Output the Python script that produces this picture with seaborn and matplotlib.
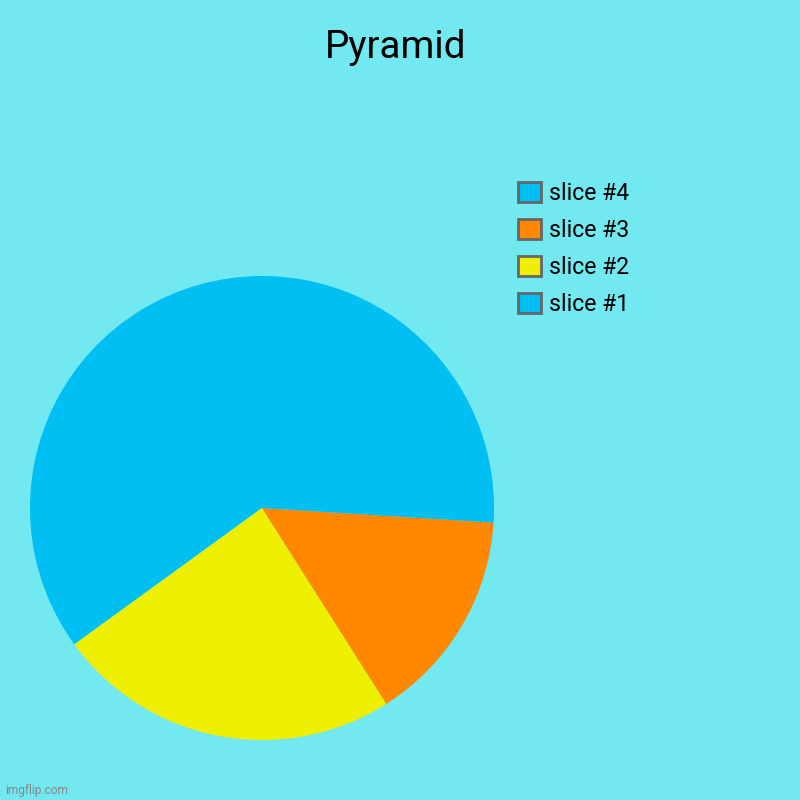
import matplotlib
matplotlib.use("Agg")
import matplotlib.pyplot as plt
from matplotlib.patches import Patch
import seaborn as sns

# pie data (counterclockwise from 12 o'clock)
labels = ['slice #1', 'slice #2', 'slice #3', 'slice #4']
values = [35, 24, 15, 26]
colors = ['#00bff3', '#eef000', '#ff8800', '#00bff3']
bg = '#72e8f0'

sns.set_theme(style="white")
plt.rcParams['font.family'] = ['Roboto', 'DejaVu Sans']

fig = plt.figure(figsize=(8, 8), dpi=100, facecolor=bg)
ax = fig.add_axes([0.0375, 0.075, 0.58, 0.58])
ax.set_facecolor(bg)
ax.pie(values, colors=sns.color_palette(colors), startangle=90, counterclock=True,
       wedgeprops=dict(linewidth=0))
ax.set_xlim(-1, 1)
ax.set_ylim(-1, 1)
ax.set_aspect('equal')
ax.axis('off')

fig.text(0.494, 0.940, 'Pyramid', ha='center', va='center', fontsize=27.8, color='black')

handles = [Patch(facecolor=c, edgecolor='#666666', linewidth=2) for c in colors]
leg = fig.legend(handles[::-1], labels[::-1], loc='upper left',
                 bbox_to_anchor=(0.647, 0.773), frameon=False, fontsize=16.6,
                 handlelength=1.0, handleheight=1.0, handletextpad=0.35,
                 labelspacing=0.6, borderaxespad=0, borderpad=0,
                 labelcolor='black')

fig.text(0.007, 0.012, 'imgflip.com', fontsize=8.6, color='#888888', ha='left', va='center')

fig.savefig('out.png', dpi=100, facecolor=bg)
